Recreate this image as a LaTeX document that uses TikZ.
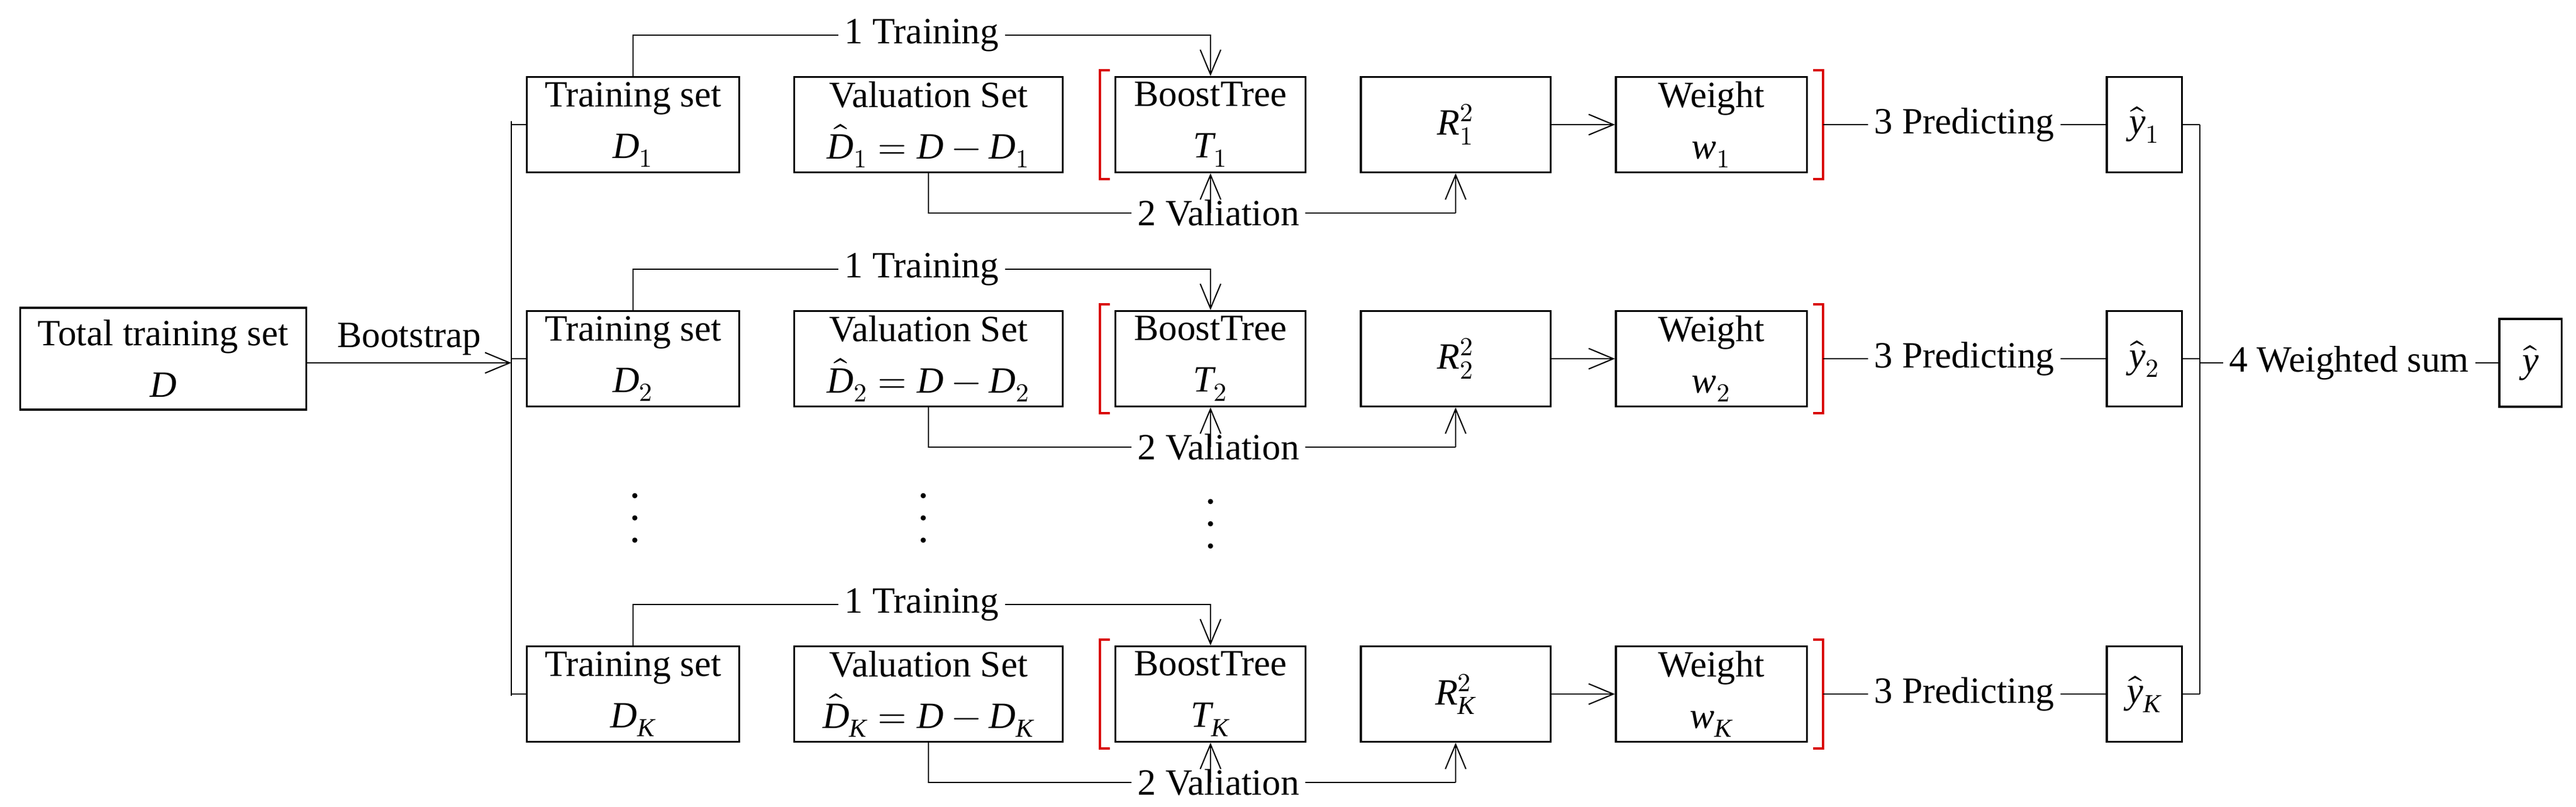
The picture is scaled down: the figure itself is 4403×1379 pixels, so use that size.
\documentclass[tikz,border=0pt]{standalone}
\usepackage{fontspec}
\setmainfont{Liberation Serif}
\usepackage{unicode-math}
\setmathfont{Latin Modern Math}
\setmathfont[range={it/{latin,Latin}}]{Liberation Serif Italic}
\usetikzlibrary{arrows.meta,calc}
\begin{document}
\begin{tikzpicture}[x=0.01cm,y=-0.01cm,
  box/.style={draw,line width=0.9pt,align=center,inner sep=0pt,font=\fontsize{18}{25}\selectfont},
  lbl/.style={fill=white,inner sep=3pt,font=\fontsize{18}{20}\selectfont},
  ln/.style={line width=0.8pt},
  arr/.style={ln,-{Straight Barb[length=12pt,width=10pt,line width=0.6pt]}},
  brk/.style={draw=red!85!black,line width=1pt}]
\useasboundingbox (0,0) rectangle (4403,1379);
\node[box,minimum width=4.88cm,minimum height=1.74cm] (tot) at (279,613) {Total training set\\$D$};
\coordinate (busT) at (874,207);
\coordinate (busB) at (874,1189);
\draw[ln] (busT) -- (busB);
\coordinate (bin) at (874,620);
\draw[arr] (tot.east|-bin) -- node[above,font=\fontsize{18}{20}\selectfont] {Bootstrap} (bin);

\foreach \r/\y/\s in {1/213/1,2/613/2,3/1186/K}{
  \node[box,minimum width=3.62cm,minimum height=1.63cm] (tr\r) at (1082,\y) {Training set\\$D_{\s}$};
  \node[box,minimum width=4.59cm,minimum height=1.63cm] (va\r) at (1587,\y) {Valuation Set\\$\hat{D}_{\s}=D-D_{\s}$};
  \node[box,minimum width=3.25cm,minimum height=1.63cm] (bt\r) at (2069,\y) {BoostTree\\$T_{\s}$};
  \node[box,minimum width=3.24cm,minimum height=1.63cm] (rr\r) at (2488,\y) {$R_{\s}^{2}$};
  \node[box,minimum width=3.26cm,minimum height=1.63cm] (wt\r) at (2925,\y) {Weight\\$w_{\s}$};
  \node[box,minimum width=1.28cm,minimum height=1.63cm] (yh\r) at (3665,\y) {$\hat{y}_{\s}$};
  \draw[ln] (busT|-tr\r.west) -- (tr\r.west);
  \coordinate (tu\r) at (1082,\y-153);
  \draw[arr] (tr\r.north) -- (tr\r.north|-tu\r) -- node[lbl] {1 Training} (bt\r.north|-tu\r) -- (bt\r.north);
  \coordinate (vd\r) at (1587,\y+151);
  \draw[ln] (va\r.south) -- (va\r.south|-vd\r) -- node[lbl,pos=0.55] {2 Valiation} (rr\r.south|-vd\r);
  \draw[arr] (bt\r.south|-vd\r) -- (bt\r.south);
  \draw[arr] (rr\r.south|-vd\r) -- (rr\r.south);
  \draw[arr] (rr\r.east) -- (wt\r.west);
  \draw[brk] (1897,\y-93) -- (1880,\y-93) -- (1880,\y+93) -- (1897,\y+93);
  \draw[brk] (3099,\y-93) -- (3116,\y-93) -- (3116,\y+93) -- (3099,\y+93);
  \coordinate (br\r) at (3116,\y);
  \draw[ln] (br\r) -- node[lbl] {3 Predicting} (yh\r.west);
  \draw[ln] (yh\r.east) -- (3760,\y);
}
\node[box,minimum width=1.06cm,minimum height=1.5cm] (yf) at (4325,620) {$\hat{y}$};
\coordinate (bus2T) at (3760,213);
\coordinate (bus2B) at (3760,1186);
\draw[ln] (bus2T) -- (bus2B);
\draw[ln] (bus2T|-yf) -- node[lbl] {4 Weighted sum} (yf.west);
\foreach \x/\o in {1085/0,1578/0,2069/10}{
  \foreach \d in {0,38,76}{
    \fill (\x,847+\o+\d) circle (4.5);
  }
}
\end{tikzpicture}
\end{document}
